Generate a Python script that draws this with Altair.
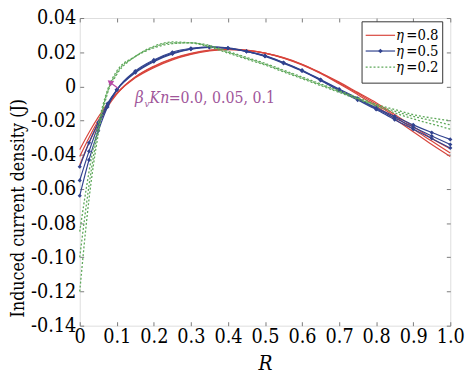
import altair as alt
import pandas as pd

R_GRID = [0, 0.025, 0.05, 0.075, 0.1, 0.15, 0.2, 0.25, 0.3, 0.35, 0.4, 0.45,
          0.5, 0.55, 0.6, 0.65, 0.7, 0.75, 0.8, 0.85, 0.9, 0.95, 1.0]

RED_1 = [-0.037, -0.027, -0.018, -0.010, -0.004, 0.005, 0.011, 0.0155, 0.0187, 0.0207, 0.0215, 0.021,
         0.0195, 0.0168, 0.013, 0.008, 0.0025, -0.0035, -0.0095, -0.0165, -0.0235, -0.0305, -0.0365]
RED_2 = [-0.041, -0.030, -0.020, -0.011, -0.004, 0.0055, 0.0115, 0.016, 0.019, 0.021, 0.0217, 0.0211,
         0.0195, 0.0167, 0.0128, 0.0078, 0.002, -0.004, -0.0105, -0.0175, -0.025, -0.032, -0.039]
RED_3 = [-0.046, -0.033, -0.022, -0.012, -0.0045, 0.0055, 0.0118, 0.0163, 0.0193, 0.0212, 0.0218, 0.0212,
         0.0195, 0.0165, 0.0125, 0.0075, 0.0015, -0.0048, -0.0115, -0.019, -0.0265, -0.034, -0.041]

BLUE_1 = [-0.047, -0.033, -0.021, -0.010, -0.002, 0.008, 0.0145, 0.019, 0.0218, 0.0228, 0.0222, 0.0205,
          0.018, 0.014, 0.0095, 0.004, -0.0015, -0.007, -0.0125, -0.0175, -0.0225, -0.027, -0.031]
BLUE_2 = [-0.055, -0.038, -0.023, -0.011, -0.002, 0.0085, 0.015, 0.0195, 0.022, 0.023, 0.0223, 0.0205,
          0.0178, 0.0138, 0.0092, 0.0038, -0.002, -0.0075, -0.013, -0.0185, -0.0238, -0.029, -0.034]
BLUE_3 = [-0.064, -0.043, -0.026, -0.012, -0.002, 0.009, 0.0155, 0.020, 0.0223, 0.0232, 0.0225, 0.0205,
          0.0176, 0.0135, 0.009, 0.0035, -0.0025, -0.008, -0.0135, -0.0195, -0.025, -0.0305, -0.036]

GREEN_1 = [-0.085, -0.050, -0.022, -0.002, 0.009, 0.0175, 0.0225, 0.025, 0.0255, 0.024, 0.0205, 0.017,
           0.0135, 0.0095, 0.0055, 0.0015, -0.0025, -0.0065, -0.0105, -0.0135, -0.0165, -0.0185, -0.020]
GREEN_2 = [-0.100, -0.058, -0.025, -0.003, 0.008, 0.0175, 0.023, 0.0255, 0.0255, 0.0235, 0.020, 0.0165,
           0.013, 0.009, 0.005, 0.001, -0.003, -0.007, -0.011, -0.0145, -0.0175, -0.020, -0.0225]
GREEN_3 = [-0.120, -0.066, -0.028, -0.004, 0.007, 0.0175, 0.0235, 0.026, 0.0255, 0.023, 0.0195, 0.016,
           0.0125, 0.0085, 0.0045, 0.0005, -0.0035, -0.0075, -0.0115, -0.0155, -0.019, -0.022, -0.025]

X_TICKS = [0, 0.1, 0.2, 0.3, 0.4, 0.5, 0.6, 0.7, 0.8, 0.9, 1.0]
Y_TICKS = [-0.14, -0.12, -0.10, -0.08, -0.06, -0.04, -0.02, 0, 0.02, 0.04]
ETA_LABELS = ["=0.8", "=0.5", "=0.2"]

RED = "#d8453c"
BLUE = "#31438f"
GREEN = "#5ea85a"
FRAME = "#7a7a7a"
ANNO = "#a0569a"
FONT = "'DejaVu Serif Condensed', 'DejaVu Serif', serif"
W, H = 377, 313

rows = []
for name, eta, vals in [("r1", "0.8", RED_1), ("r2", "0.8", RED_2), ("r3", "0.8", RED_3),
                        ("b1", "0.5", BLUE_1), ("b2", "0.5", BLUE_2), ("b3", "0.5", BLUE_3),
                        ("g1", "0.2", GREEN_1), ("g2", "0.2", GREEN_2), ("g3", "0.2", GREEN_3)]:
    for r, j in zip(R_GRID, vals):
        rows.append({"R": r, "J": j, "eta": eta, "curve": name})
df = pd.DataFrame(rows)

xs = alt.Scale(domain=[0, 1], nice=False, zero=False)
ys = alt.Scale(domain=[-0.14, 0.04], nice=False, zero=False)


def ex(axis=None):
    return alt.X("R:Q", scale=xs, axis=axis)


def ey(axis=None):
    return alt.Y("J:Q", scale=ys, axis=axis)


x_axis = alt.Axis(values=X_TICKS, labelExpr="datum.value == 0 ? '0' : format(datum.value, '.1f')",
                  ticks=False, domain=False, grid=False, labelFont=FONT, labelFontSize=20,
                  labelColor="black", labelPadding=1, labelBaseline="top", labelFlush=False,
                  title="R", titleFont=FONT, titleFontSize=21, titleFontStyle="italic",
                  titleFontWeight="normal", titleColor="black", titleY=45,
                  titleBaseline="alphabetic")
y_axis = alt.Axis(values=Y_TICKS,
                  labelExpr="datum.value == 0 ? '0' : (datum.value < 0 ? '-' : '') + format(abs(datum.value), '.2f')",
                  ticks=False, domain=False, grid=False, labelFont=FONT, labelFontSize=20,
                  labelColor="black", labelPadding=4, labelFlush=False,
                  title="Induced current density (J)", titleFont=FONT, titleFontSize=18,
                  titleFontWeight="normal", titleColor="black", titleX=-62, titleY=193,
                  titleBaseline="middle", titleAngle=270)


def tick_axis(orient, offset, values):
    return alt.Axis(orient=orient, offset=offset, values=values, labels=False, title="",
                    domain=False, grid=False, ticks=True, tickSize=4, tickColor=FRAME,
                    tickWidth=1)


red = alt.Chart(df).transform_filter(alt.datum.eta == "0.8").mark_line(
    color=RED, strokeWidth=1.2, interpolate="monotone").encode(
    x=ex(x_axis), y=ey(y_axis), detail="curve:N")

blue = alt.Chart(df).transform_filter(alt.datum.eta == "0.5").mark_line(
    color=BLUE, strokeWidth=1.2, interpolate="monotone",
    point=alt.OverlayMarkDef(shape="diamond", size=18, filled=True, color=BLUE)).encode(
    x=ex(), y=ey(), detail="curve:N")

green = alt.Chart(df).transform_filter(alt.datum.eta == "0.2").mark_line(
    color=GREEN, strokeWidth=1.3, strokeDash=[2, 2], interpolate="monotone").encode(
    x=ex(), y=ey(), detail="curve:N")

ticks_bl = alt.Chart(df).mark_point(opacity=0).encode(
    x=ex(tick_axis("top", -H, X_TICKS)), y=ey(tick_axis("right", -W, Y_TICKS)))
ticks_tr = alt.Chart(df).mark_point(opacity=0).encode(
    x=ex(tick_axis("bottom", -H, X_TICKS)), y=ey(tick_axis("left", -W, Y_TICKS)))

leg_box = alt.Chart(pd.DataFrame({"R": [0.7619], "R2": [0.9796], "J": [0.0378], "J2": [0.0019]})).mark_rect(
    fill="white", stroke="#333333", strokeWidth=1).encode(
    x=ex(), x2="R2:Q", y=ey(), y2="J2:Q")

LEG_J = [0.0299, 0.0207, 0.0113]
leg_df = pd.DataFrame({"R": [0.7717] * 3, "R2": [0.851] * 3, "J": LEG_J})
leg_red = alt.Chart(leg_df.iloc[[0]]).mark_rule(color=RED, strokeWidth=1.2).encode(
    x=ex(), x2="R2:Q", y=ey())
leg_blue = alt.Chart(leg_df.iloc[[1]]).mark_rule(color=BLUE, strokeWidth=1.2).encode(
    x=ex(), x2="R2:Q", y=ey())
leg_blue_pt = alt.Chart(pd.DataFrame({"R": [0.8115], "J": [LEG_J[1]]})).mark_point(
    shape="diamond", size=22, filled=True, color=BLUE, opacity=1).encode(x=ex(), y=ey())
leg_green = alt.Chart(leg_df.iloc[[2]]).mark_rule(color=GREEN, strokeWidth=1.3, strokeDash=[2, 2]).encode(
    x=ex(), x2="R2:Q", y=ey())
leg_eta = alt.Chart(pd.DataFrame({"R": [0.8537] * 3, "J": LEG_J, "t": ["η"] * 3})).mark_text(
    font=FONT, fontSize=15, fontStyle="italic", align="left", baseline="middle", color="black").encode(
    x=ex(), y=ey(), text="t:N")
leg_lab = alt.Chart(pd.DataFrame({"R": [0.8815] * 3, "J": LEG_J, "t": ETA_LABELS})).mark_text(
    font=FONT, fontSize=15, align="left", baseline="middle", color="black").encode(
    x=ex(), y=ey(), text="t:N")

ann_beta = alt.Chart(pd.DataFrame({"R": [0.149], "J": [-0.0097], "t": ["β"]})).mark_text(
    font=FONT, fontSize=17, fontStyle="italic", align="left", baseline="alphabetic", color=ANNO).encode(
    x=ex(), y=ey(), text="t:N")
ann_v = alt.Chart(pd.DataFrame({"R": [0.175], "J": [-0.012], "t": ["v"]})).mark_text(
    font=FONT, fontSize=10, fontStyle="italic", align="left", baseline="alphabetic", color=ANNO).encode(
    x=ex(), y=ey(), text="t:N")
ann_kn = alt.Chart(pd.DataFrame({"R": [0.1885], "J": [-0.0097], "t": ["Kn"]})).mark_text(
    font=FONT, fontSize=16, fontStyle="italic", align="left", baseline="alphabetic", color=ANNO).encode(
    x=ex(), y=ey(), text="t:N")
ann_vals = alt.Chart(pd.DataFrame({"R": [0.24], "J": [-0.0097], "t": ["=0.0, 0.05, 0.1"]})).mark_text(
    font=FONT, fontSize=16, align="left", baseline="alphabetic", color=ANNO).encode(
    x=ex(), y=ey(), text="t:N")
arrow_line = alt.Chart(pd.DataFrame({"R": [0.1035], "R2": [0.083], "J": [-0.0011], "J2": [0.0021]})).mark_rule(
    color="#b84aa6", strokeWidth=1.3).encode(x=ex(), x2="R2:Q", y=ey(), y2="J2:Q")
arrow_head = alt.Chart(pd.DataFrame({"R": [0.0815], "J": [0.0025]})).mark_point(
    shape="triangle-up", size=45, filled=True, color="#b84aa6", opacity=1, angle=308).encode(
    x=ex(), y=ey())

chart = alt.layer(
    red, blue, green, ticks_bl, ticks_tr,
    leg_box, leg_red, leg_blue, leg_blue_pt, leg_green, leg_eta, leg_lab,
    ann_beta, ann_v, ann_kn, ann_vals, arrow_line, arrow_head
).resolve_axis(x="independent", y="independent").properties(
    width=W, height=H,
    autosize=alt.AutoSizeParams(type="none"),
    padding={"left": 73, "top": 7, "right": 16, "bottom": 48},
).configure_view(stroke=FRAME, strokeWidth=1.2).configure(background="white")

chart.save("out.html", embed_options={"renderer": "svg", "actions": False})
